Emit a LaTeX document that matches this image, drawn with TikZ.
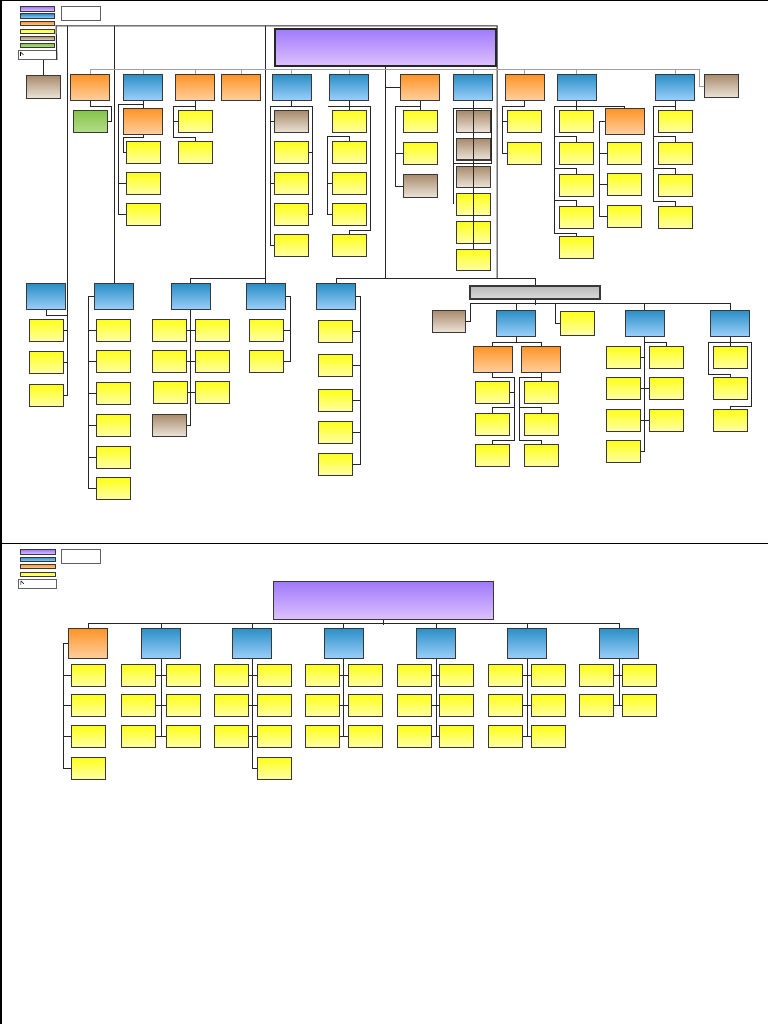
\documentclass[tikz,border=0pt]{standalone}
\usepackage{tikz}
\usepackage{xcolor}
\definecolor{boxline}{HTML}{383838}
\definecolor{headtop}{HTML}{A07AFB}
\definecolor{headbot}{HTML}{DEC2FD}
\definecolor{bluetop}{HTML}{2B8FC6}
\definecolor{bluebot}{HTML}{9DD0FC}
\definecolor{orangetop}{HTML}{FF9426}
\definecolor{orangebot}{HTML}{FFD0A2}
\definecolor{yellowtop}{HTML}{FFFF1A}
\definecolor{yellowbot}{HTML}{FFFFA8}
\definecolor{tantop}{HTML}{A88B6D}
\definecolor{tanbot}{HTML}{EEE5DA}
\definecolor{greentop}{HTML}{86C44A}
\definecolor{greenbot}{HTML}{B5DD8A}
\definecolor{bartop}{HTML}{B8B8B8}
\definecolor{barbot}{HTML}{DCDCDC}
\tikzset{
  cell/.style={draw=boxline, line width=1.1pt, inner sep=0pt, anchor=north west,
               minimum width=34pt, minimum height=22pt},
  yellowcell/.style={cell, top color=yellowtop, bottom color=yellowbot},
  tancell/.style={cell, top color=tantop, bottom color=tanbot},
  greencell/.style={cell, top color=greentop, bottom color=greenbot},
  bluecell/.style={cell, top color=bluetop, bottom color=bluebot,
                   minimum width=39pt, minimum height=26pt},
  orangecell/.style={cell, top color=orangetop, bottom color=orangebot,
                     minimum width=39pt, minimum height=26pt},
  headcell/.style={cell, top color=headtop, bottom color=headbot,
                   minimum width=221pt, minimum height=37pt},
  barcell/.style={cell, top color=bartop, bottom color=barbot,
                  minimum width=129.7pt, minimum height=12.7pt, line width=2pt},
  swatch/.style={draw=boxline, line width=0.7pt, inner sep=0pt, anchor=north west,
                 minimum width=34pt, minimum height=4.3pt},
  keybox/.style={draw=gray!75!black, line width=1pt, fill=white, inner sep=0pt,
                 anchor=north west, minimum width=39pt, minimum height=14pt},
  link/.style={draw=black!85, line width=1pt},
  greylink/.style={draw=gray!75, line width=1pt},
}
\begin{document}
\begin{tikzpicture}[x=1pt,y=-1pt]
    \useasboundingbox (0,0) rectangle (768,1024);
    \draw[line width=1.5pt] (0,0.75) -- (768,0.75) (0.75,0) -- (0.75,1024) (0,543.5) -- (768,543.5);
    % legend, first sheet
    \node[swatch, top color=headtop, bottom color=headbot] (s1) at (20,6.3) {};
    \node[swatch, top color=bluetop, bottom color=bluebot] (s2) at (20,13.5) {};
    \node[swatch, top color=orangetop, bottom color=orangebot] (s3) at (20,21) {};
    \node[swatch, top color=yellowtop, bottom color=yellowbot] (s4) at (20,28.8) {};
    \node[swatch, top color=tantop, bottom color=tanbot] (s5) at (20,36) {};
    \node[swatch, top color=greentop, bottom color=greenbot] (s6) at (20,43) {};
    \node[keybox] (key1) at (61,6) {};
    \node[keybox, minimum width=38pt, minimum height=9pt] (note1) at (18,50) {};
    \draw[line width=0.6pt] (note1.north west) ++(2.5,2) -- ++(0,4) (note1.north west) ++(2.5,2) -- ++(3,3);
    % first sheet, upper tree
    \node[headcell, line width=2pt, draw=black!85] (top) at (274,28) {};
    \node[tancell, minimum height=23pt] (t1) at (26,75) {};
    \node[orangecell] (t2) at (70,74) {};
    \node[bluecell] (t3) at (123,74) {};
    \node[orangecell] (t4) at (175,74) {};
    \node[orangecell] (t5) at (221,74) {};
    \node[bluecell] (t6) at (271.5,74) {};
    \node[bluecell] (t7) at (329,74) {};
    \node[orangecell] (t8) at (400,74) {};
    \node[bluecell] (t9) at (453,74) {};
    \node[orangecell] (t10) at (504.5,74) {};
    \node[bluecell] (t11) at (556.5,74) {};
    \node[bluecell] (t12) at (655,74) {};
    \node[tancell, minimum height=23pt] (t13) at (703.5,74) {};
    \node[greencell] (g2) at (72.5,110) {};
    \node[orangecell] (o3) at (123,108) {};
    \node[yellowcell] (y3a) at (125.5,141.3) {};
    \node[yellowcell] (y3b) at (125.5,172) {};
    \node[yellowcell] (y3c) at (125.5,203.3) {};
    \node[yellowcell] (y4a) at (177.5,110) {};
    \node[yellowcell] (y4b) at (177.5,141.3) {};
    \node[tancell] (k6a) at (274,110.3) {};
    \node[yellowcell] (k6b) at (274,141) {};
    \node[yellowcell] (k6c) at (274,171.7) {};
    \node[yellowcell] (k6d) at (274,203.3) {};
    \node[yellowcell] (k6e) at (274,234.3) {};
    \node[yellowcell] (k7a) at (331.5,110.3) {};
    \node[yellowcell] (k7b) at (331.5,141) {};
    \node[yellowcell] (k7c) at (331.5,171.7) {};
    \node[yellowcell] (k7d) at (331.5,203.3) {};
    \node[yellowcell] (k7e) at (331.5,234.3) {};
    \node[yellowcell] (k8a) at (402.5,110.3) {};
    \node[yellowcell] (k8b) at (402.5,142.3) {};
    \node[tancell, minimum height=23pt] (k8c) at (402.5,174) {};
    \node[tancell, minimum height=21.5pt] (k9a) at (455.5,110.3) {};
    \node[tancell, minimum height=21.5pt] (k9b) at (455.5,138) {};
    \node[tancell, minimum height=21.5pt] (k9c) at (455.5,165.7) {};
    \node[yellowcell, minimum height=21.5pt] (k9d) at (455.5,193.3) {};
    \node[yellowcell, minimum height=21.5pt] (k9e) at (455.5,221.3) {};
    \node[yellowcell, minimum height=21.5pt] (k9f) at (455.5,248.7) {};
    \node[yellowcell] (k10a) at (507,110.3) {};
    \node[yellowcell] (k10b) at (507,142) {};
    \node[yellowcell] (k11a) at (559,110.3) {};
    \node[yellowcell] (k11b) at (559,142) {};
    \node[yellowcell] (k11c) at (559,173.7) {};
    \node[yellowcell] (k11d) at (559,205.7) {};
    \node[yellowcell] (k11e) at (559,236.3) {};
    \node[orangecell] (o11) at (604.5,108) {};
    \node[yellowcell] (k11f) at (607,142.3) {};
    \node[yellowcell] (k11g) at (607,172.7) {};
    \node[yellowcell] (k11h) at (607,204.7) {};
    \node[yellowcell] (k12a) at (657.5,110.3) {};
    \node[yellowcell] (k12b) at (657.5,142) {};
    \node[yellowcell] (k12c) at (657.5,173.7) {};
    \node[yellowcell] (k12d) at (657.5,205.7) {};
    % first sheet, lower tree
    \node[bluecell] (b1) at (26,283.3) {};
    \node[yellowcell] (b1a) at (29,319.3) {};
    \node[yellowcell] (b1b) at (29,351.3) {};
    \node[yellowcell] (b1c) at (29,384.3) {};
    \node[bluecell] (b2) at (94,283.3) {};
    \node[yellowcell] (b2a) at (96,318.7) {};
    \node[yellowcell] (b2b) at (96,350.3) {};
    \node[yellowcell] (b2c) at (96,382.3) {};
    \node[yellowcell] (b2d) at (96,414) {};
    \node[yellowcell] (b2e) at (96,445.7) {};
    \node[yellowcell] (b2f) at (96,477.3) {};
    \node[bluecell] (b3) at (170.7,283.3) {};
    \node[yellowcell] (b3a) at (152.3,318.7) {};
    \node[yellowcell] (b3b) at (152.3,350.3) {};
    \node[yellowcell] (b3c) at (152.8,381.3) {};
    \node[tancell] (b3g) at (152.3,414) {};
    \node[yellowcell] (b3d) at (195.3,318.7) {};
    \node[yellowcell] (b3e) at (195.3,350.3) {};
    \node[yellowcell] (b3f) at (195.3,381.3) {};
    \node[bluecell] (b4) at (245.7,283.3) {};
    \node[yellowcell] (b4a) at (248.7,318.7) {};
    \node[yellowcell] (b4b) at (248.7,350.3) {};
    \node[bluecell] (b5) at (316.3,283.3) {};
    \node[yellowcell] (b5a) at (318.3,320.3) {};
    \node[yellowcell] (b5b) at (318.3,354.3) {};
    \node[yellowcell] (b5c) at (318.3,389.3) {};
    \node[yellowcell] (b5d) at (318.3,421) {};
    \node[yellowcell] (b5e) at (318.3,452.7) {};
    \node[barcell] (bar) at (469.3,285) {};
    \node[tancell, minimum width=33pt] (c1) at (432.3,310) {};
    \node[bluecell] (c2) at (496.3,310) {};
    \node[yellowcell, minimum height=24pt] (c3) at (560,310.7) {};
    \node[bluecell] (c4) at (624.7,310) {};
    \node[bluecell] (c5) at (710,310) {};
    \node[orangecell] (o21) at (472.7,346) {};
    \node[orangecell] (o22) at (521.3,346) {};
    \node[yellowcell] (d1a) at (475.2,381) {};
    \node[yellowcell] (d1b) at (475.2,412.7) {};
    \node[yellowcell] (d1c) at (475.2,444.3) {};
    \node[yellowcell] (d2a) at (523.8,381) {};
    \node[yellowcell] (d2b) at (523.8,412.7) {};
    \node[yellowcell] (d2c) at (523.8,444.3) {};
    \node[yellowcell] (c4a) at (606.3,346.3) {};
    \node[yellowcell] (c4b) at (606.3,377) {};
    \node[yellowcell] (c4c) at (606.3,408.7) {};
    \node[yellowcell] (c4d) at (606.3,440.3) {};
    \node[yellowcell] (c4e) at (649.3,346.3) {};
    \node[yellowcell] (c4f) at (649.3,377) {};
    \node[yellowcell] (c4g) at (649.3,408.7) {};
    \node[yellowcell] (c5a) at (712.5,346.3) {};
    \node[yellowcell] (c5b) at (712.5,377) {};
    \node[yellowcell] (c5c) at (712.5,409) {};
    % first sheet, connectors
    \coordinate (fa) at (56,26);
    \coordinate (fb) at (497,26);
    \coordinate (fc) at (497,278.3);
    \draw[link] (note1.south east) -- (fa) -- (fb) -- (fc);
    \draw[link] (t1.north) -- (t1.north |- note1.south);
    \draw[link] (fa) ++(11,0) |- (b1c.east);
    \draw[link] (b2.north) -- (b2.north |- fa);
    \draw[link] (b4.north) -- (b4.north |- fa);
    \draw[link] (top.south) -- (top.south |- fc);
    \draw[greylink] (t2.north) -- ++(0,-4.5) -- ++(609.2,0) |- (t13.west);
    \draw[greylink] (t3.north) -- ++(0,-4.5) (t4.north) -- ++(0,-4.5) (t5.north) -- ++(0,-4.5)
                    (t6.north) -- ++(0,-4.5) (t7.north) -- ++(0,-4.5) (t9.north) -- ++(0,-4.5)
                    (t10.north) -- ++(0,-4.5) (t11.north) -- ++(0,-4.5) (t12.north) -- ++(0,-4.5);
    \draw[link] (t2.south) |- ++(21.8,5.3) |- (g2.east);
    \draw[link] (t3.south) -- (o3.north);
    \draw[link] (t3.south) ++(0,3.3) -- ++(-24.2,0) |- (y3c.west);
    \draw[link] (y3b.west) -- ++(-7.2,0);
    \draw[link] (o3.south) -- ++(0,2.7) -- ++(-19.2,0) |- (y3a.west);
    \draw[link] (t4.south) -- (y4a.north);
    \draw[link] (t4.south) ++(0,5.3) -- ++(-21.5,0) |- ++(21.5,31.4) -- (y4b.north);
    \draw[link] (y4a.west) -- ++(-4.5,0);
    \draw[link] (t6.south) -- ++(0,5.3) -- ++(-21,0) |- (k6e.west);
    \draw[link] (t6.south) ++(0,5.3) -- ++(21.3,0) |- (k6d.east);
    \draw[link] (k6a.west) -- ++(-4,0) (k6c.west) -- ++(-4,0) (k6b.east) -- ++(4.3,0);
    \draw[link] (t7.south) -- (k7a.north);
    \draw[link] (t7.south) ++(0,5.3) -- ++(-21.5,0);
    \draw[link] (t7.south) ++(0,5.3) -- ++(21.8,0) |- ++(-21.8,124) -- (k7e.north);
    \draw[link] (k7b.north) -- ++(0,-4.3) -- ++(-21.5,0) |- (k7d.west);
    \draw[link] (k7c.west) -- ++(-4.5,0);
    \draw[link] (t8.west) -- ++(-15.5,0);
    \draw[link] (t8.south) -- (k8a.north);
    \draw[link] (t8.south) ++(0,5.3) -- ++(-24.8,0) |- (k8c.west);
    \draw[link] (k8b.west) -- ++(-7.8,0);
    \draw[link] (k9a.north west) ++(-2,93.7) -- ++(0,-95.7) -- ++(37.5,0) -- ++(0,55) -- ++(-37.5,0);
    \draw[link] (t9.south) -- (k9f.north);
    \draw[link] (t10.south) -- ++(0,5.3) -- ++(-21.7,0) |- (k10b.west);
    \draw[link] (k10a.west) -- ++(-4.7,0);
    \draw[link] (t11.south) -- (k11a.north);
    \draw[link] (t11.south) ++(0,5.3) -- ++(-22.3,0) |- ++(22.3,127) -- (k11e.north);
    \draw[link] (k11b.north) -- ++(0,-5.3) -- ++(-22.3,0) (k11c.north) -- ++(0,-5.3) -- ++(-22.3,0)
                (k11d.north) -- ++(0,-5.3) -- ++(-22.3,0);
    \draw[link] (t11.south) ++(0,5.3) -| (o11.north);
    \draw[link] (o11.west) -- ++(-5.5,0) |- (k11h.west);
    \draw[link] (k11f.west) -- ++(-8,0) (k11g.west) -- ++(-8,0);
    \draw[link] (t12.south) -- (k12a.north);
    \draw[link] (t12.south) ++(0,5.3) -- ++(-21.2,0) |- ++(21.2,95) -- (k12d.north);
    \draw[link] (k12b.north) -- ++(0,-5.3) -- ++(-21.2,0) (k12c.north) -- ++(0,-5.3) -- ++(-21.2,0);
    \draw[link] (b1.south) -- ++(0,4.7) -- ++(21.5,0);
    \draw[link] (b1a.east) -- ++(4,0) (b1b.east) -- ++(4,0);
    \draw[link] (b2.west) -- ++(-5.3,0) |- (b2f.west);
    \draw[link] (b2a.west) -- ++(-7.3,0) (b2b.west) -- ++(-7.3,0) (b2c.west) -- ++(-7.3,0)
                (b2d.west) -- ++(-7.3,0) (b2e.west) -- ++(-7.3,0);
    \draw[link] (b4.north) ++(0,-5) -| (b3.north);
    \draw[link] (b3.south) |- (b3g.east);
    \draw[link] (b3a.east) -- (b3a.east -| b3.south) (b3b.east) -- (b3b.east -| b3.south)
                (b3c.east) -- (b3c.east -| b3.south) (b3d.west) -- (b3d.west -| b3.south)
                (b3e.west) -- (b3e.west -| b3.south) (b3f.west) -- (b3f.west -| b3.south);
    \draw[link] (b4.east) -- ++(4.6,0) |- (b4b.east);
    \draw[link] (b4a.east) -- ++(6.6,0);
    \draw[link] (b5.east) -- ++(3.7,0) |- (b5e.east);
    \draw[link] (b5a.east) -- ++(7,0) (b5b.east) -- ++(7,0) (b5c.east) -- ++(7,0) (b5d.east) -- ++(7,0);
    \draw[link] (b5.north) -- ++(0,-5);
    \draw[link] (b5.north) ++(0,-5) -| (bar.north);
    \draw[link] (bar.south) -- ++(0,5);
    \draw[link] (c1.east) -- ++(4,0) -- ++(0,-18.3) -| (c5.north);
    \draw[link] (c2.north) -- ++(0,-7.3) (c4.north) -- ++(0,-7.3);
    \draw[link] (c3.west) -- ++(-4.3,0) -- ++(0,-20);
    \draw[link] (c2.south) -- ++(0,5) -| (o21.north);
    \draw[link] (c2.south) ++(0,5) -| (o22.north);
    \draw[link] (o21.south) -- ++(0,4.3) -- ++(21.5,0) |- ++(-21.5,63.3) -- (d1c.north);
    \draw[link] (d1a.east) -- ++(4.5,0);
    \draw[link] (d1b.north) -- ++(0,-5) -- ++(21.5,0);
    \draw[link] (o22.south) -- (d2a.north);
    \draw[link] (o22.south) ++(0,4.3) -- ++(-22.1,0) |- ++(22.1,63.3) -- (d2c.north);
    \draw[link] (d2b.north) -- ++(0,-5) -- ++(-22.1,0);
    \draw[link] (c4.south) |- (c4d.east);
    \draw[link] (c4.south) ++(0,5) -| (c4e.north);
    \draw[link] (c4a.east) -- (c4a.east -| c4.south) (c4b.east) -- (c4b.east -| c4.south)
                (c4c.east) -- (c4c.east -| c4.south) (c4f.west) -- (c4f.west -| c4.south)
                (c4g.west) -- (c4g.west -| c4.south);
    \draw[link] (c5.south) -- (c5a.north);
    \draw[link] (c5.south) ++(0,5) -- ++(-21.8,0) |- ++(21.8,32.3) -- (c5b.north);
    \draw[link] (c5.south) ++(0,5) -- ++(21.5,0) |- ++(-21.5,64) -- (c5c.north);
    % legend, second sheet
    \node[swatch, top color=headtop, bottom color=headbot, minimum width=35pt] (u1) at (20,549.3) {};
    \node[swatch, top color=bluetop, bottom color=bluebot, minimum width=35pt] (u2) at (20,556.7) {};
    \node[swatch, top color=orangetop, bottom color=orangebot, minimum width=35pt] (u3) at (20,563.7) {};
    \node[swatch, top color=yellowtop, bottom color=yellowbot, minimum width=35pt] (u4) at (20,571.7) {};
    \node[keybox, minimum width=39.6pt] (key2) at (60.7,549.3) {};
    \node[keybox, minimum width=37.7pt, minimum height=8.4pt] (note2) at (18.3,579.3) {};
    \draw[line width=0.6pt] (note2.north west) ++(2.5,1.5) -- ++(0,4) (note2.north west) ++(2.5,1.5) -- ++(3,3);
    % second sheet
    \node[headcell, minimum width=220.6pt, minimum height=38pt] (top2) at (272.7,581.3) {};
    \node[orangecell, minimum height=30.6pt] (q1) at (68,627.7) {};
    \node[bluecell, minimum height=30.6pt] (q2) at (141,627.7) {};
    \node[bluecell, minimum height=30.6pt] (q3) at (232.3,627.7) {};
    \node[bluecell, minimum height=30.6pt] (q4) at (323.7,627.7) {};
    \node[bluecell, minimum height=30.6pt] (q5) at (416,627.7) {};
    \node[bluecell, minimum height=30.6pt] (q6) at (507.3,627.7) {};
    \node[bluecell, minimum height=30.6pt] (q7) at (599,627.7) {};
    \node[yellowcell] (q1a) at (71,664.3) {};
    \node[yellowcell] (q1b) at (71,694.3) {};
    \node[yellowcell] (q1c) at (71,725) {};
    \node[yellowcell] (q1d) at (71,756.7) {};
    \node[yellowcell] (q2a) at (121.3,664.3) {};
    \node[yellowcell] (q2b) at (121.3,694.3) {};
    \node[yellowcell] (q2c) at (121.3,725) {};
    \node[yellowcell] (q2d) at (165.7,664.3) {};
    \node[yellowcell] (q2e) at (165.7,694.3) {};
    \node[yellowcell] (q2f) at (165.7,725) {};
    \node[yellowcell] (q3a) at (213.7,664.3) {};
    \node[yellowcell] (q3b) at (213.7,694.3) {};
    \node[yellowcell] (q3c) at (213.7,725) {};
    \node[yellowcell] (q3d) at (257,664.3) {};
    \node[yellowcell] (q3e) at (257,694.3) {};
    \node[yellowcell] (q3f) at (257,725) {};
    \node[yellowcell] (q3g) at (257,756.7) {};
    \node[yellowcell] (q4a) at (305,664.3) {};
    \node[yellowcell] (q4b) at (305,694.3) {};
    \node[yellowcell] (q4c) at (305,725) {};
    \node[yellowcell] (q4d) at (348.3,664.3) {};
    \node[yellowcell] (q4e) at (348.3,694.3) {};
    \node[yellowcell] (q4f) at (348.3,725) {};
    \node[yellowcell] (q5a) at (396.7,664.3) {};
    \node[yellowcell] (q5b) at (396.7,694.3) {};
    \node[yellowcell] (q5c) at (396.7,725) {};
    \node[yellowcell] (q5d) at (439.3,664.3) {};
    \node[yellowcell] (q5e) at (439.3,694.3) {};
    \node[yellowcell] (q5f) at (439.3,725) {};
    \node[yellowcell] (q6a) at (488,664.3) {};
    \node[yellowcell] (q6b) at (488,694.3) {};
    \node[yellowcell] (q6c) at (488,725) {};
    \node[yellowcell] (q6d) at (531,664.3) {};
    \node[yellowcell] (q6e) at (531,694.3) {};
    \node[yellowcell] (q6f) at (531,725) {};
    \node[yellowcell] (q7a) at (579.3,664.3) {};
    \node[yellowcell] (q7b) at (579.3,694.3) {};
    \node[yellowcell] (q7c) at (622.3,664.3) {};
    \node[yellowcell] (q7d) at (622.3,694.3) {};
    \draw[link] (top2.south) -- ++(0,4.4);
    \draw[link] (q1.north) -- ++(0,-4) -| (q7.north);
    \draw[link] (q2.north) -- ++(0,-4) (q3.north) -- ++(0,-4) (q4.north) -- ++(0,-4)
                (q5.north) -- ++(0,-4) (q6.north) -- ++(0,-4);
    \draw[link] (q1.west) -- ++(-5,0) |- (q1d.west);
    \draw[link] (q1a.west) -- ++(-8,0) (q1b.west) -- ++(-8,0) (q1c.west) -- ++(-8,0);
    \draw[link] (q2.south) |- (q2c.east) (q2a.east) -- (q2a.east -| q2.south) (q2b.east) -- (q2b.east -| q2.south)
                (q2d.west) -- (q2d.west -| q2.south) (q2e.west) -- (q2e.west -| q2.south) (q2f.west) -- (q2f.west -| q2.south);
    \draw[link] (q3.south) |- (q3g.west) (q3a.east) -- (q3a.east -| q3.south) (q3b.east) -- (q3b.east -| q3.south)
                (q3c.east) -- (q3c.east -| q3.south) (q3d.west) -- (q3d.west -| q3.south)
                (q3e.west) -- (q3e.west -| q3.south) (q3f.west) -- (q3f.west -| q3.south);
    \draw[link] (q4.south) |- (q4c.east) (q4a.east) -- (q4a.east -| q4.south) (q4b.east) -- (q4b.east -| q4.south)
                (q4d.west) -- (q4d.west -| q4.south) (q4e.west) -- (q4e.west -| q4.south) (q4f.west) -- (q4f.west -| q4.south);
    \draw[link] (q5.south) |- (q5c.east) (q5a.east) -- (q5a.east -| q5.south) (q5b.east) -- (q5b.east -| q5.south)
                (q5d.west) -- (q5d.west -| q5.south) (q5e.west) -- (q5e.west -| q5.south) (q5f.west) -- (q5f.west -| q5.south);
    \draw[link] (q6.south) |- (q6c.east) (q6a.east) -- (q6a.east -| q6.south) (q6b.east) -- (q6b.east -| q6.south)
                (q6d.west) -- (q6d.west -| q6.south) (q6e.west) -- (q6e.west -| q6.south) (q6f.west) -- (q6f.west -| q6.south);
    \draw[link] (q7.south) |- (q7b.east) (q7a.east) -- (q7a.east -| q7.south)
                (q7c.west) -- (q7c.west -| q7.south) (q7d.west) -- (q7d.west -| q7.south);
  \end{tikzpicture}
\end{document}
